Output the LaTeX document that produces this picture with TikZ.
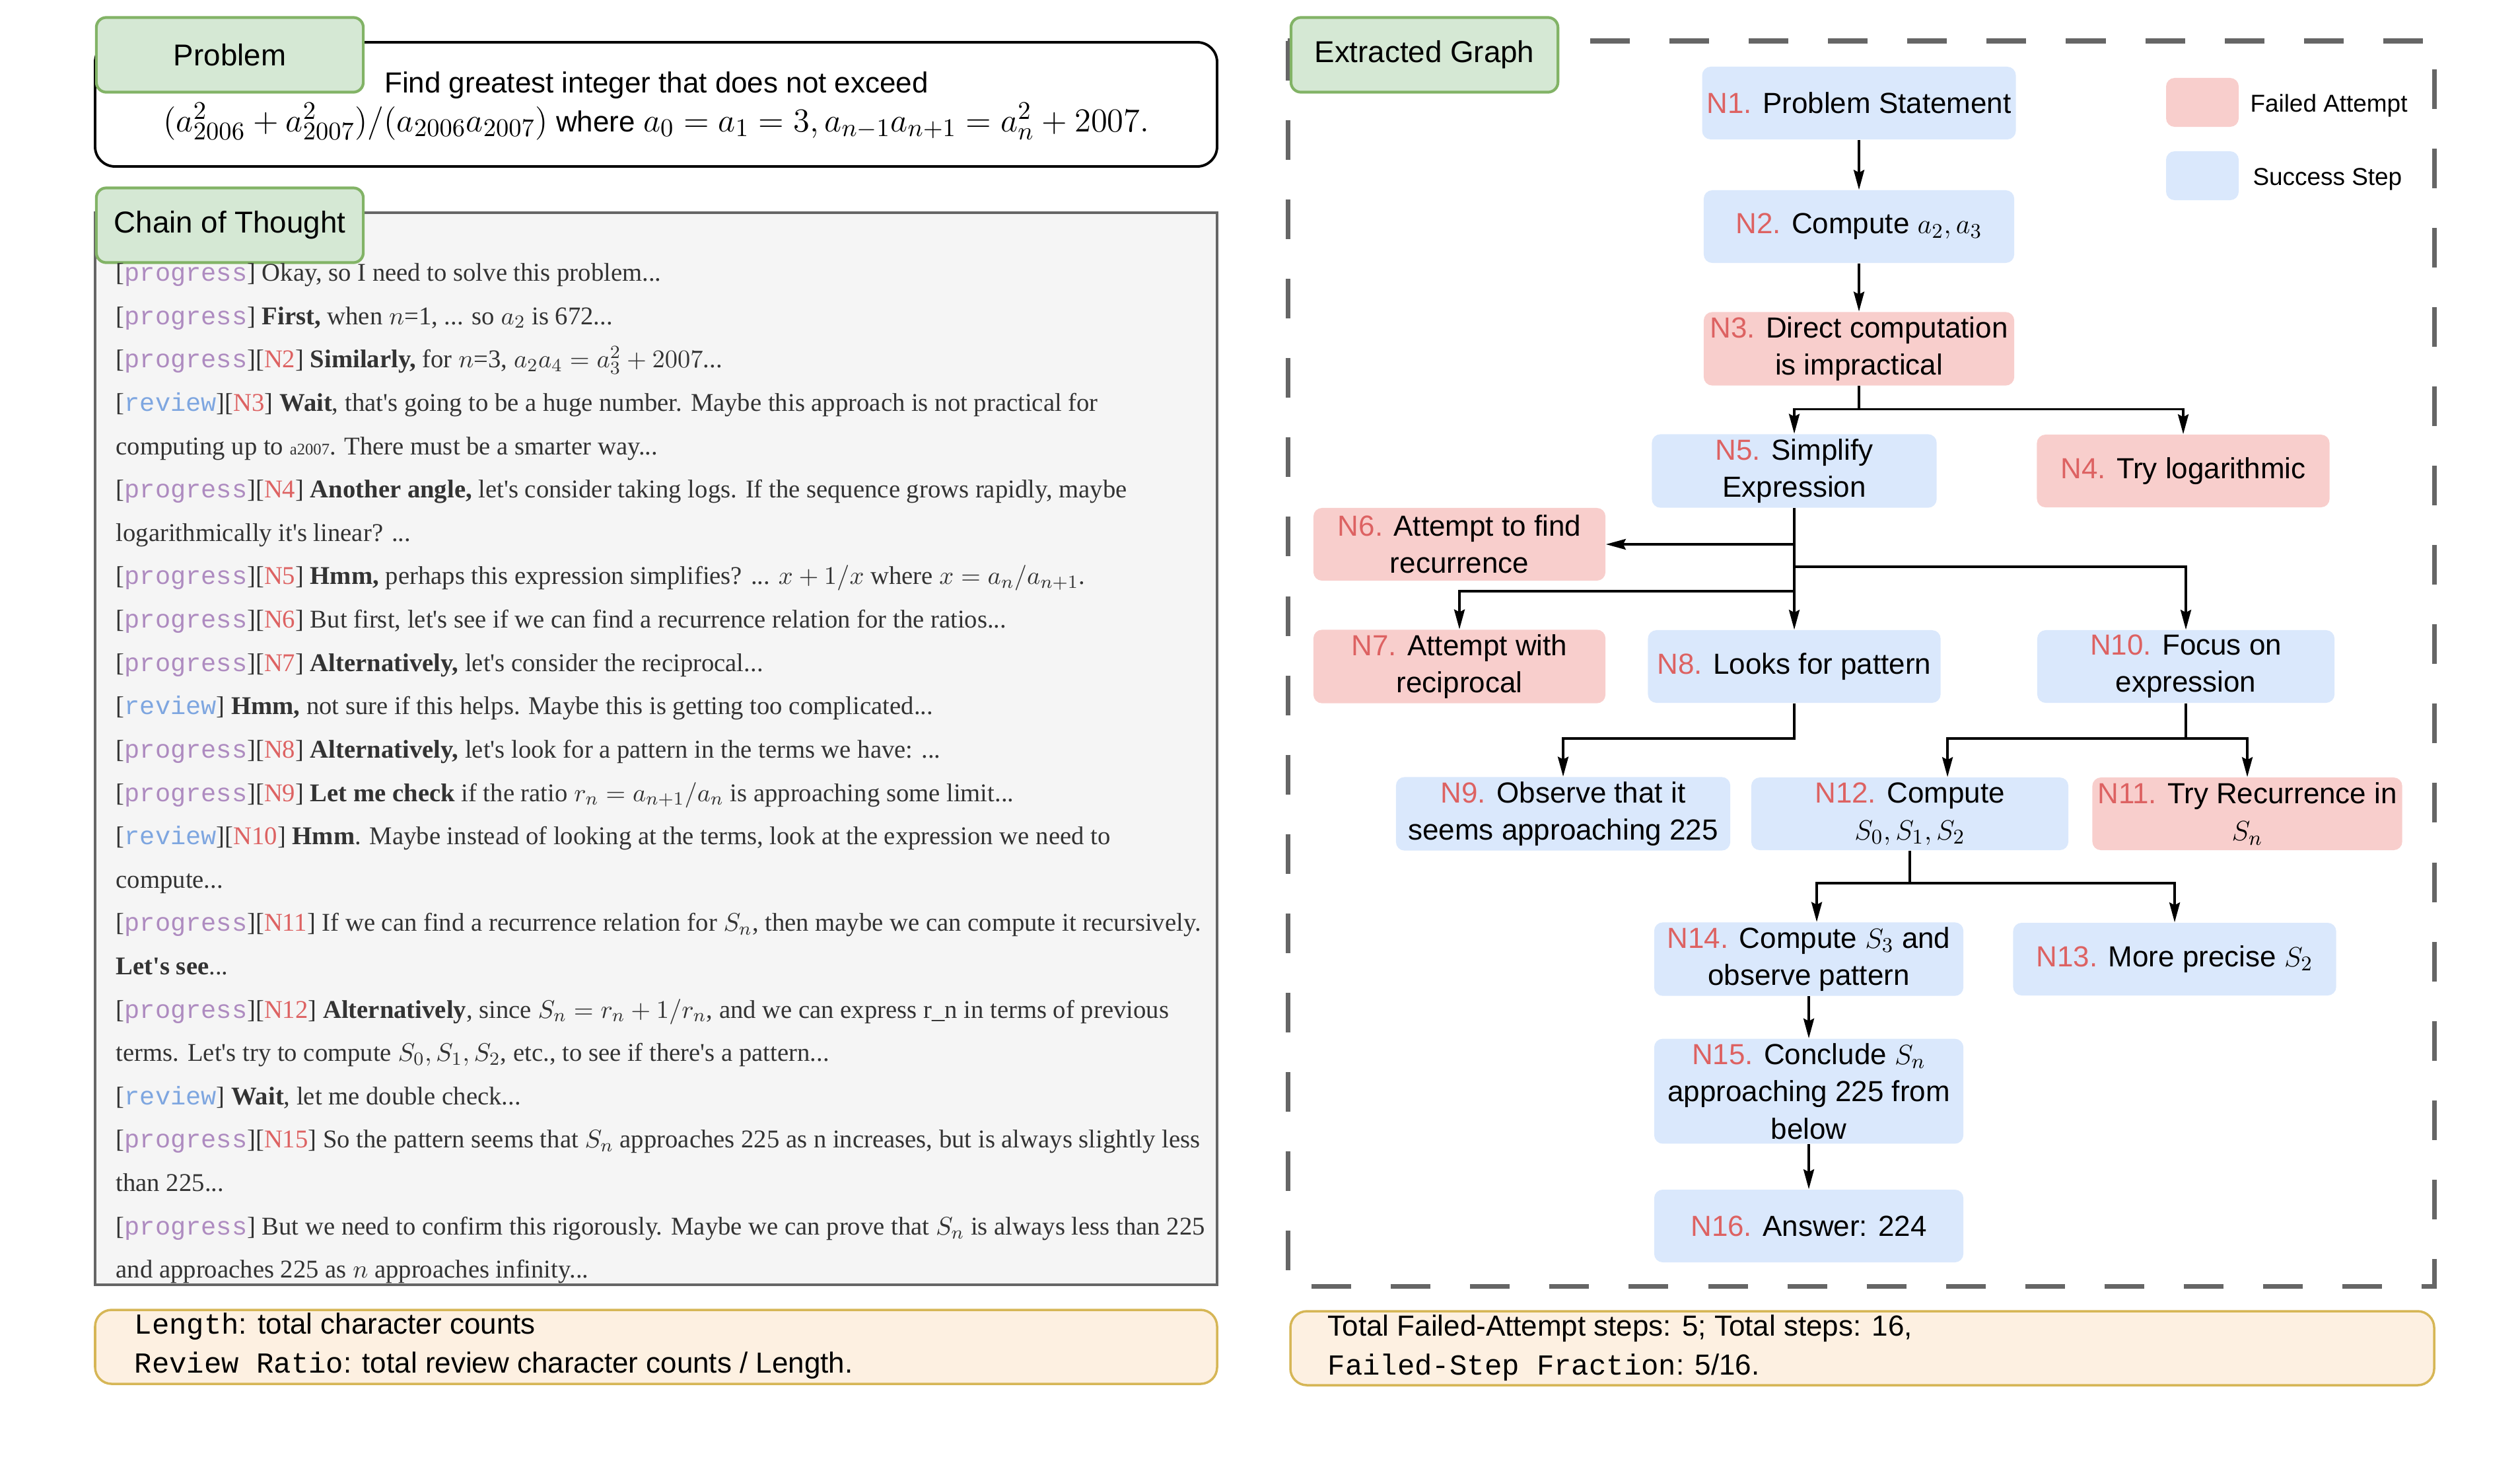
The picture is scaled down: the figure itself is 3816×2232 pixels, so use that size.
\documentclass[tikz,border=0pt]{standalone}
\usepackage{fontspec}
\setmainfont{Liberation Sans}
\setmonofont{Liberation Mono}
\newfontfamily\cotserif{Liberation Serif}
\usepackage{xcolor}
\usetikzlibrary{arrows.meta,positioning}
\definecolor{okfill}{HTML}{DAE8FC}
\definecolor{failfill}{HTML}{F8CECC}
\definecolor{tabfill}{HTML}{D5E8D4}
\definecolor{tabline}{HTML}{82B366}
\definecolor{notefill}{HTML}{FDF0E1}
\definecolor{noteline}{HTML}{D6B656}
\definecolor{cotfill}{HTML}{F5F5F5}
\definecolor{boxgray}{HTML}{666666}
\definecolor{cotgray}{HTML}{333333}
\definecolor{nred}{HTML}{DD6262}
\definecolor{progc}{HTML}{AE8BC0}
\definecolor{revc}{HTML}{7EA6E0}
\tikzset{
  stepnode/.style={rounded corners=0.13cm,align=center,inner sep=2pt,minimum height=1.10cm},
  okstep/.style={stepnode,fill=okfill},
  failstep/.style={stepnode,fill=failfill},
  tab/.style={rounded corners=0.15cm,fill=tabfill,draw=tabline,line width=1.2pt,
    minimum width=4.04cm,minimum height=1.13cm,font=\fontsize{13}{15}\selectfont},
  flow/.style={->,line width=1pt},
  notebox/.style={rounded corners=0.25cm,fill=notefill,draw=noteline,line width=1pt},
  notetext/.style={align=left,inner sep=0pt,anchor=west,font=\fontsize{12.5}{16.8}\selectfont},
  legtext/.style={inner sep=0pt,yshift=-0.05cm,font=\fontsize{10.5}{12}\selectfont},
  probtext/.style={inner sep=0pt,anchor=base,font=\fontsize{12.5}{15}\selectfont},
  cot/.style={align=left,inner sep=0pt,text=cotgray,font=\cotserif\fontsize{11}{18.66}\selectfont},
  dashbox/.style={draw=boxgray,line width=2pt,dash pattern=on 0.6cm off 0.6cm}
}
\newcommand{\nlab}[1]{\textcolor{nred}{#1}}
\newcommand{\tagprog}{[\textcolor{progc}{\texttt{progress}}]}
\newcommand{\tagrev}{[\textcolor{revc}{\texttt{review}}]}
\newcommand{\tagn}[1]{[\textcolor{nred}{#1}]}
\newcommand{\bigmath}[1]{{\fontsize{15.6}{16}\selectfont$#1$}}

\begin{document}
\begin{tikzpicture}[x=0.01cm,y=-0.01cm,font=\fontsize{12.5}{16}\selectfont,
  >={Stealth[length=0.30cm,width=0.16cm,inset=0.04cm]}]
\useasboundingbox (0,0) rectangle (3816,2232);

% left side: problem and chain of thought
\draw[line width=1.1pt,rounded corners=0.3cm] (144,64) rectangle (1843,252);
\node[tab] (tabprob) at (348,83) {Problem};
\node[probtext] (probline1) at (994,140) {Find greatest integer that does not exceed};
\node[probtext] (probline2) at (994,199)
  {\bigmath{(a_{2006}^2+a_{2007}^2)/(a_{2006}a_{2007})} where \bigmath{a_0=a_1=3, a_{n-1}a_{n+1}=a_n^2+2007.}};

\draw[fill=cotfill,draw=boxgray,line width=0.9pt] (144,322) rectangle (1843,1945);
\node[tab] (tabcot) at (348,341) {Chain of Thought};
\node[cot,anchor=north west] (cottext) at (175,398) {%
\tagprog{} Okay, so I need to solve this problem...\\
\tagprog{} \textbf{First,} when $n$=1, ... so $a_2$ is 672...\\
\tagprog\tagn{N2} \textbf{Similarly,} for $n$=3, $a_2a_4=a_3^2+2007$...\\
\tagrev\tagn{N3} \textbf{Wait}, that's going to be a huge number. Maybe this approach is not practical for\\
computing up to {\scriptsize a2007}. There must be a smarter way...\\
\tagprog\tagn{N4} \textbf{Another angle,} let's consider taking logs. If the sequence grows rapidly, maybe\\
logarithmically it's linear? ...\\
\tagprog\tagn{N5} \textbf{Hmm,} perhaps this expression simplifies? ... $x+1/x$ where $x=a_n/a_{n+1}$.\\
\tagprog\tagn{N6} But first, let's see if we can find a recurrence relation for the ratios...\\
\tagprog\tagn{N7} \textbf{Alternatively,} let's consider the reciprocal...\\
\tagrev{} \textbf{Hmm,} not sure if this helps. Maybe this is getting too complicated...\\
\tagprog\tagn{N8} \textbf{Alternatively,} let's look for a pattern in the terms we have: ...\\
\tagprog\tagn{N9} \textbf{Let me check} if the ratio $r_n=a_{n+1}/a_n$ is approaching some limit...\\
\tagrev\tagn{N10} \textbf{Hmm}. Maybe instead of looking at the terms, look at the expression we need to\\
compute...\\
\tagprog\tagn{N11} If we can find a recurrence relation for $S_n$, then maybe we can compute it recursively.\\
\textbf{Let's see}...\\
\tagprog\tagn{N12} \textbf{Alternatively}, since $S_n=r_n+1/r_n$, and we can express r\_n in terms of previous\\
terms. Let's try to compute $S_0,S_1,S_2$, etc., to see if there's a pattern...\\
\tagrev{} \textbf{Wait}, let me double check...\\
\tagprog\tagn{N15} So the pattern seems that $S_n$ approaches 225 as n increases, but is always slightly less\\
than 225...\\
\tagprog{} But we need to confirm this rigorously. Maybe we can prove that $S_n$ is always less than 225\\
and approaches 225 as $n$ approaches infinity...};

\draw[notebox] (144,1983) rectangle (1843,2095);
\node[notetext] (notelen) at (203,2038)
  {\texttt{Length}: total character counts\\\texttt{Review Ratio}: total review character counts / Length.};

% right side: extracted graph
\draw[dashbox] (1950,62) rectangle (3686,1947);
\node[tab] (tabgraph) at (2157,83) {Extracted Graph};

\node[failstep,minimum width=1.10cm,minimum height=0.74cm] (legfail) at (3335,155) {};
\node[okstep,minimum width=1.10cm,minimum height=0.74cm] (legok) at (3335,266) {};
\node[legtext,right=0.16cm of legfail] (legfailtext) {Failed Attempt};
\node[legtext,right=0.2cm of legok] (legoktext) {Success Step};

\node[okstep,minimum width=4.70cm] (n1) at (2815,156) {\nlab{N1.} Problem Statement};
\node[okstep,minimum width=4.70cm] (n2) at (2815,343) {\nlab{N2.} Compute $a_2, a_3$};
\node[failstep,minimum width=4.70cm] (n3) at (2815,528) {\nlab{N3.} Direct computation\\is impractical};
\node[okstep,minimum width=4.31cm] (n5) at (2717,713) {\nlab{N5.} Simplify\\Expression};
\node[failstep,minimum width=4.43cm] (n4) at (3306,713) {\nlab{N4.} Try logarithmic};
\node[failstep,minimum width=4.42cm] (n6) at (2210,824) {\nlab{N6.} Attempt to find\\recurrence};
\node[failstep,minimum width=4.42cm] (n7) at (2210,1009) {\nlab{N7.} Attempt with\\reciprocal};
\node[okstep,minimum width=4.43cm] (n8) at (2717,1009) {\nlab{N8.} Looks for pattern};
\node[okstep,minimum width=4.50cm] (n10) at (3310,1009) {\nlab{N10.} Focus on\\expression};
\node[okstep,minimum width=5.06cm] (n9) at (2367,1232) {\nlab{N9.} Observe that it\\seems approaching 225};
\node[okstep,minimum width=4.80cm] (n12) at (2892,1232) {\nlab{N12.} Compute\\$S_0, S_1, S_2$};
\node[failstep,minimum width=4.69cm] (n11) at (3403,1232) {\nlab{N11.} Try Recurrence in\\$S_n$};
\node[okstep,minimum width=4.68cm] (n14) at (2739,1452) {\nlab{N14.} Compute $S_3$ and\\observe pattern};
\node[okstep,minimum width=4.89cm] (n13) at (3293,1452) {\nlab{N13.} More precise $S_2$};
\node[okstep,minimum width=4.68cm,minimum height=1.47cm] (n15) at (2739,1652)
  {\nlab{N15.} Conclude $S_n$\\approaching 225 from\\below};
\node[okstep,minimum width=4.68cm] (n16) at (2739,1856) {\nlab{N16.} Answer: 224};

\coordinate (j10) at (2717,858);
\coordinate (j7) at (2717,895);

\path[flow] (n1) edge (n2)
  (n2) edge (n3)
  (n5) edge (n8)
  (n14) edge (n15)
  (n15) edge (n16);
\draw[flow] (n3.south) -- ++(0,35) -| (n5.north);
\draw[flow] (n3.south) -- ++(0,35) -| (n4.north);
\draw[flow] (n5.south |- n6.east) -- (n6.east);
\draw[flow] (j10) -| (n10.north);
\draw[flow] (j7) -| (n7.north);
\draw[flow] (n8.south) -- ++(0,53) -| (n9.north);
\draw[flow] (n10.south) -- ++(0,53) -| ([xshift=0.57cm]n12.north);
\draw[flow] (n10.south) -- ++(0,53) -| (n11.north);
\draw[flow] (n12.south) -- ++(0,49) -| ([xshift=0.12cm]n14.north);
\draw[flow] (n12.south) -- ++(0,49) -| (n13.north);

\draw[notebox] (1954,1985) rectangle (3686,2097);
\node[notetext] (notefrac) at (2010,2041)
  {Total Failed-Attempt steps: 5; Total steps: 16,\\\texttt{Failed-Step Fraction}: 5/16.};
\end{tikzpicture}
\end{document}
